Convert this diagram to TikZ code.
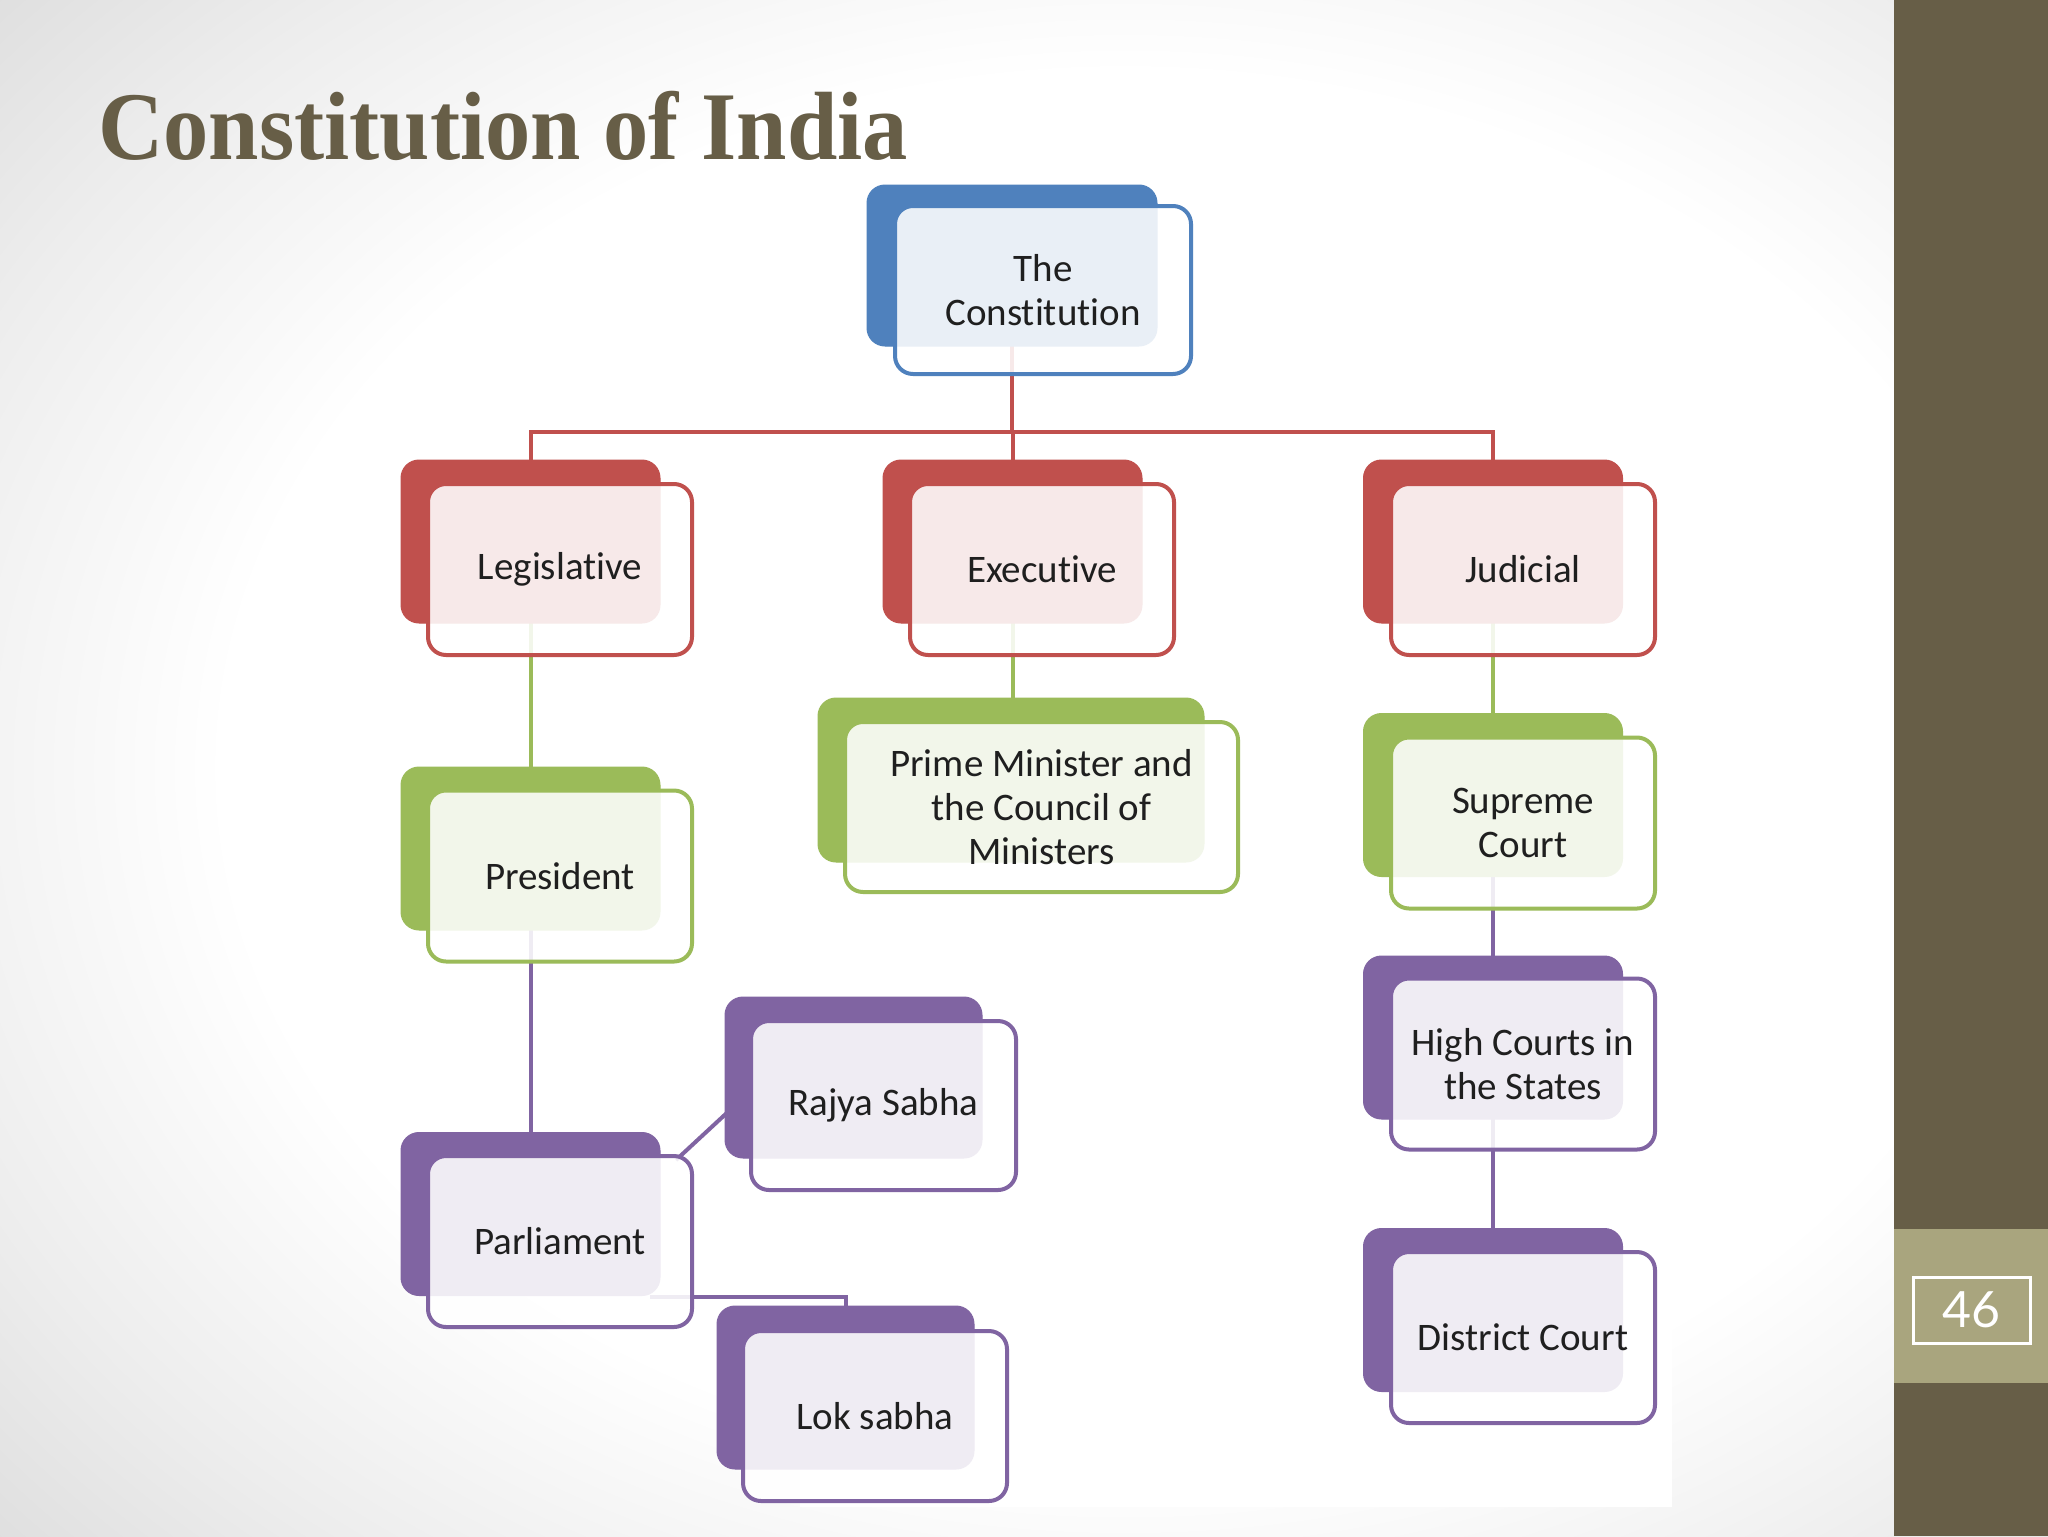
\documentclass[tikz,border=0pt]{standalone}
\usepackage{fontspec}
\setmainfont{Carlito}[Ligatures={NoCommon}]
\newfontfamily\titlefont{Liberation Serif}
\newfontfamily\numfont{Lato}
\usetikzlibrary{calc}
\definecolor{cblue}{HTML}{4F81BD}
\definecolor{cred}{HTML}{C0504D}
\definecolor{cgreen}{HTML}{9BBB59}
\definecolor{cpurple}{HTML}{8064A2}
\definecolor{olivedark}{HTML}{675E47}
\definecolor{oliveband}{HTML}{A9A57E}
\pgfdeclareradialshading{vign}{\pgfpoint{0bp}{0bp}}{color(0bp)=(white); color(20bp)=(white); color(28bp)=(black!7); color(36bp)=(black!15); color(50bp)=(black!15)}
\pgfdeclarelayer{bgshade}
\pgfdeclarelayer{bgline}
\pgfsetlayers{bgshade,bgline,main}
\tikzset{
 boxback/.style={draw=#1, fill=#1, rounded corners=9pt, line width=0.5pt, minimum width=129.5pt, minimum height=81.5pt, inner sep=0pt},
 boxfront/.style={draw=#1, line width=2pt, fill=white, fill opacity=0.88, text opacity=1, rounded corners=9pt, minimum width=132pt, minimum height=85.5pt, align=center, font=\fontsize{19.5}{22}\selectfont, text=black!88, inner sep=0pt},
 conn/.style={draw=#1, line width=2pt},
}
\begin{document}
\begin{tikzpicture}[x=0.5pt,y=-0.5pt]
\useasboundingbox (0,0) rectangle (2048,1536);
\clip (0,0) rectangle (2048,1536);
\begin{pgfonlayer}{bgshade}
\shade[shading=vign] (0,-100) rectangle (2250,1636);
\fill[white] (800,500) rectangle (1672,1507);
\end{pgfonlayer}

% title
\node[anchor=base west, inner sep=0pt, text=olivedark, font=\titlefont\bfseries\fontsize{48.5}{50}\selectfont, xscale=0.933] (title) at (98,159) {Constitution of India};

% right panel
\fill[olivedark] (1894,0) rectangle (2048,1536);
\fill[oliveband] (1894,1229) rectangle (2048,1383);
\node[draw=white, line width=1.5pt, minimum width=58.5pt, minimum height=33pt, inner sep=0pt, text=white, font=\numfont\fontsize{25}{25}\selectfont] (pnum) at (1971.5,1310) {46};

% boxes
\node[boxback=cblue, minimum width=145pt, minimum height=80.5pt] (conB) at (1012,265.5) {};
\node[boxfront=cblue, minimum width=148pt, minimum height=84pt] (conF) at (1043,290) {The\\Constitution};

\node[boxback=cred] (legB) at (530.5,541.5) {};
\node[boxfront=cred] (legF) at (560,569.5) {Legislative};
\node[boxback=cred] (exeB) at (1012.5,541.5) {};
\node[boxfront=cred] (exeF) at (1042,569.5) {Executive};
\node[boxback=cred] (judB) at (1493,541.5) {};
\node[boxfront=cred] (judF) at (1523,569.5) {Judicial};

\node[boxback=cgreen] (presB) at (530.5,848.5) {};
\node[boxfront=cgreen] (presF) at (560,876) {President};
\node[boxback=cgreen, minimum width=193pt, minimum height=82pt] (pmB) at (1011,780) {};
\node[boxfront=cgreen, minimum width=196.5pt, minimum height=85pt] (pmF) at (1041.5,807) {Prime Minister and\\the Council of\\Ministers};
\node[boxback=cgreen] (supB) at (1493,795) {};
\node[boxfront=cgreen] (supF) at (1523,823) {Supreme\\Court};

\node[boxback=cpurple] (parlB) at (530.5,1214) {};
\node[boxfront=cpurple] (parlF) at (560,1241.5) {Parliament};
\node[boxback=cpurple, minimum width=128.5pt, minimum height=80.5pt] (rajB) at (853.5,1077.5) {};
\node[boxfront=cpurple, minimum width=132.5pt, minimum height=84.5pt] (rajF) at (883.5,1105.5) {Rajya Sabha};
\node[boxback=cpurple, minimum width=128.5pt, minimum height=81.5pt] (lokB) at (845.5,1387.5) {};
\node[boxfront=cpurple, minimum width=132pt, minimum height=85pt] (lokF) at (875,1416) {Lok sabha};
\node[boxback=cpurple] (highB) at (1493,1037.5) {};
\node[boxfront=cpurple] (highF) at (1523,1064) {High Courts in\\the States};
\node[boxback=cpurple] (distB) at (1493,1310) {};
\node[boxfront=cpurple] (distF) at (1523,1337.5) {District Court};

% connectors
\coordinate (busy) at (0,432);
\coordinate (rs1) at (676,1160);
\coordinate (rs2) at (730,1110);
\coordinate (ls1) at (650,1297);
\begin{pgfonlayer}{bgline}
\draw[conn=cred] (conB.center) -- (conB.center |- busy);
\draw[conn=cred] (legB.center) |- (busy -| judB.center) -- (judB.center);
\draw[conn=cred] (exeB.center |- busy) -- (exeB.center);
\draw[conn=cgreen] (legB.center) -- (presB.center);
\draw[conn=cgreen] (exeB.center) -- (exeB.center |- pmB.center);
\draw[conn=cgreen] (judB.center) -- (supB.center);
\draw[conn=cpurple] (presB.center) -- (parlB.center);
\draw[conn=cpurple] (supB.center) -- (highB.center);
\draw[conn=cpurple] (highB.center) -- (distB.center);
\draw[conn=cpurple] (rs1) -- (rs2);
\draw[conn=cpurple] (ls1) -| (lokB.center);
\end{pgfonlayer}
\end{tikzpicture}
\end{document}
